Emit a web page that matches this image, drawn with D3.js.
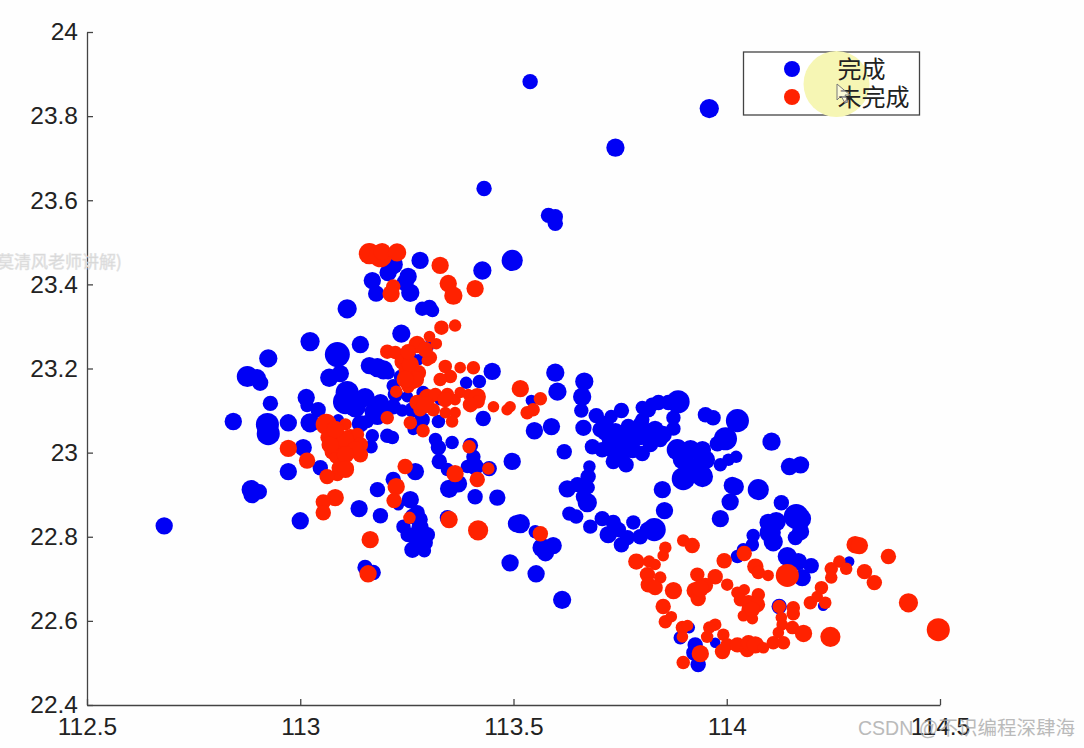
<!DOCTYPE html>
<html>
<head>
<meta charset="utf-8">
<script src="https://d3js.org/d3.v7.min.js"></script>
<style>
  html, body { margin: 0; padding: 0; background: #fefefe; }
  svg { display: block; }
  .tick text { font-family: "Liberation Sans", Arial, sans-serif; font-size: 24.5px; fill: #222; }
  .axis path, .axis line { stroke: #444; stroke-width: 1.3px; }
</style>
</head>
<body>
<div id="chart"></div>
<script>
// Scatter of stations: [lon, lat, marker area]
const legendLabels = ["完成", "未完成"];
const xTicks = [112.5, 113, 113.5, 114, 114.5];
const yTicks = [22.4, 22.6, 22.8, 23, 23.2, 23.4, 23.6, 23.8, 24];

const doneDots = [
  [113.539,23.882,49],[113.959,23.818,81],[113.739,23.725,72],[113.431,23.628,49],[113.582,23.564,49],[113.598,23.561,49],
  [113.598,23.545,49],[113.497,23.457,100],[113.427,23.433,72],[113.281,23.457,64],[113.218,23.447,81],[113.206,23.428,64],
  [113.169,23.409,64],[113.178,23.378,56],[113.253,23.419,64],[113.246,23.404,64],[113.258,23.380,72],[113.110,23.342,81],
  [113.286,23.342,42],[113.303,23.345,49],[113.310,23.338,36],[113.237,23.283,72],[113.023,23.264,81],[113.141,23.257,64],
  [113.087,23.233,144],[112.925,23.224,72],[113.094,23.188,64],[113.068,23.178,72],[112.876,23.181,100],[112.899,23.178,64],
  [112.906,23.166,56],[113.162,23.207,64],[113.181,23.202,81],[113.195,23.197,81],[113.206,23.190,36],[113.450,23.193,64],
  [113.389,23.166,30],[113.420,23.169,36],[113.300,23.252,25],[113.258,23.226,36],[113.277,23.221,25],[113.235,23.181,36],
  [113.218,23.159,36],[113.110,23.143,121],[113.106,23.121,144],[113.129,23.109,100],[113.152,23.131,81],[113.188,23.119,64],
  [113.171,23.097,64],[113.218,23.109,49],[113.239,23.100,30],[113.181,23.086,64],[112.930,23.117,49],[113.014,23.131,64],
  [113.016,23.112,36],[113.042,23.102,49],[113.023,23.071,81],[112.843,23.074,64],[112.923,23.067,121],[112.925,23.045,121],
  [112.972,23.071,64],[113.089,23.078,25],[113.141,23.069,64],[113.157,23.074,36],[113.429,23.081,49],[113.324,23.074,36],
  [113.286,23.078,49],[113.328,23.126,25],[113.288,23.143,36],[113.251,23.133,25],[113.270,23.097,25],[113.007,23.012,64],
  [113.169,23.040,36],[113.166,23.014,36],[113.204,23.040,42],[113.216,23.036,36],[113.265,23.055,25],[113.317,23.031,36],
  [113.324,23.012,49],[113.356,23.024,36],[113.399,23.017,49],[113.406,22.990,42],[113.326,22.979,49],[113.345,22.960,36],
  [113.392,22.967,36],[113.410,22.967,64],[113.443,22.962,49],[113.371,22.926,64],[113.349,22.914,72],[113.497,22.979,64],
  [113.410,22.895,49],[113.462,22.893,56],[113.270,22.955,64],[113.047,22.964,49],[112.972,22.955,64],[112.885,22.912,81],
  [112.887,22.900,64],[112.904,22.907,49],[113.000,22.838,64],[113.181,22.912,49],[113.138,22.867,64],[113.188,22.850,49],
  [113.218,22.936,49],[113.230,22.876,25],[113.258,22.888,64],[113.274,22.857,49],[113.281,22.841,49],[113.263,22.848,49],
  [113.242,22.824,42],[113.253,22.805,49],[113.281,22.822,64],[113.298,22.805,49],[113.293,22.786,49],[113.263,22.769,56],
  [113.291,22.767,36],[113.274,22.793,49],[113.345,22.845,49],[113.507,22.831,64],[113.492,22.738,64],[113.152,22.727,49],
  [113.171,22.715,49],[113.598,23.190,72],[113.603,23.145,72],[113.666,23.169,72],[113.661,23.133,72],[113.659,23.100,42],
  [113.664,23.059,56],[113.549,23.052,64],[113.589,23.062,64],[113.542,23.124,25],[113.619,23.002,49],[113.694,23.088,49],
  [113.753,23.100,49],[113.729,23.086,36],[113.715,23.067,64],[113.713,23.048,49],[113.739,23.050,64],[113.769,23.062,49],
  [113.802,23.107,36],[113.802,23.078,42],[113.825,23.114,42],[113.840,23.119,49],[113.863,23.119,49],[113.886,23.121,121],
  [113.875,23.083,42],[113.875,23.057,42],[113.851,23.043,64],[113.832,23.055,64],[113.814,23.050,64],[113.797,23.038,64],
  [113.779,23.038,49],[113.757,23.031,49],[113.844,23.031,49],[113.821,23.019,49],[113.802,22.998,49],[113.685,23.014,49],
  [113.708,23.007,49],[113.732,23.007,64],[113.755,23.012,49],[113.734,22.979,49],[113.764,22.971,49],[113.757,22.990,36],
  [113.743,22.995,49],[113.884,23.007,100],[113.896,22.983,81],[113.908,22.967,64],[113.943,23.007,64],[113.950,22.983,81],
  [113.931,22.967,64],[113.898,22.938,121],[113.943,22.943,100],[113.950,23.090,49],[113.968,23.083,49],[114.025,23.076,121],
  [113.997,23.033,121],[113.978,23.021,49],[114.105,23.026,72],[114.022,22.990,30],[114.004,22.983,30],[113.985,22.971,36],
  [114.147,22.967,64],[114.173,22.971,64],[114.020,22.919,64],[114.013,22.922,64],[114.074,22.912,100],[114.008,22.883,64],
  [113.985,22.843,64],[114.128,22.881,49],[113.849,22.912,64],[113.854,22.862,64],[113.626,22.914,64],[113.650,22.924,49],
  [113.675,22.943,49],[113.678,22.967,30],[113.675,22.917,36],[113.673,22.881,81],[113.664,22.895,49],[113.631,22.855,42],
  [113.647,22.848,42],[113.680,22.824,42],[113.708,22.843,49],[113.734,22.834,49],[113.722,22.805,64],[113.746,22.817,49],
  [113.753,22.781,49],[113.767,22.798,49],[113.781,22.834,42],[113.797,22.800,49],[113.814,22.817,49],[113.830,22.817,121],
  [113.516,22.831,81],[113.551,22.812,36],[113.567,22.774,81],[113.593,22.779,64],[113.575,22.762,64],[113.553,22.712,64],
  [113.614,22.650,72],[114.062,22.803,36],[114.060,22.781,36],[114.039,22.769,36],[114.025,22.753,36],[114.163,22.848,144],
  [114.173,22.843,100],[114.173,22.812,64],[114.161,22.798,49],[114.116,22.836,81],[114.097,22.834,64],[114.102,22.810,100],
  [114.109,22.788,81],[114.142,22.753,81],[114.168,22.741,64],[114.198,22.731,49],[114.177,22.703,64],[114.287,22.741,20],
  [114.226,22.636,20],[114.123,22.634,49],[113.912,22.584,25],[113.891,22.560,36],[113.926,22.543,49],[113.924,22.524,56],
  [113.933,22.496,49],[113.973,22.548,20],[112.681,22.826,64],
  // denser spots
  [113.762,23.043,64],[113.779,23.007,64],[113.797,23.067,49],[113.816,23.102,49],[113.727,23.031,64],[113.703,23.055,49],
  [113.915,22.960,100],[113.938,22.971,81],[113.915,23.007,81],[113.183,23.097,81],[113.223,23.138,49],[113.263,23.102,49]
];

const openDots = [
  [113.162,23.473,100],[113.188,23.468,121],[113.192,23.478,64],[113.227,23.476,72],[113.328,23.445,64],[113.347,23.402,64],
  [113.359,23.373,72],[113.410,23.390,64],[113.218,23.395,42],[113.213,23.378,64],[113.331,23.297,42],[113.363,23.302,30],
  [113.303,23.276,25],[113.319,23.259,25],[113.274,23.257,64],[113.204,23.240,42],[113.223,23.238,36],[113.305,23.226,36],
  [113.298,23.219,25],[113.239,23.216,49],[113.251,23.197,64],[113.277,23.190,49],[113.263,23.169,49],[113.253,23.157,36],
  [113.375,23.202,25],[113.406,23.202,36],[113.340,23.205,36],[113.352,23.181,36],[113.328,23.174,36],[113.225,23.145,30],
  [113.298,23.131,64],[113.274,23.119,49],[113.281,23.102,36],[113.312,23.102,36],[113.317,23.138,36],[113.345,23.138,36],
  [113.363,23.126,25],[113.375,23.143,25],[113.394,23.138,25],[113.415,23.133,64],[113.417,23.121,36],[113.453,23.109,25],
  [113.485,23.102,25],[113.492,23.109,25],[113.516,23.152,64],[113.204,23.083,36],[113.258,23.071,36],[113.340,23.095,25],
  [113.363,23.095,25],[113.356,23.074,30],[113.288,23.052,36],[113.563,23.128,36],[113.546,23.102,36],[113.532,23.095,36],
  [113.563,22.807,49],[112.972,23.010,64],[113.016,22.981,56],[113.061,23.067,100],[113.106,23.067,30],[113.063,23.036,36],
  [113.087,23.043,49],[113.117,23.038,49],[113.134,23.043,36],[113.141,23.019,49],[113.141,22.995,49],[113.117,23.012,49],
  [113.075,23.002,49],[113.087,23.007,36],[113.082,22.988,25],[113.098,22.971,49],[113.110,22.964,36],[113.087,22.948,36],
  [113.063,22.943,49],[113.089,22.964,36],[113.396,23.014,36],[113.363,22.950,64],[113.415,22.936,49],[113.441,22.962,30],
  [113.246,22.967,49],[113.225,22.919,64],[113.220,22.886,49],[113.256,22.845,30],[113.349,22.841,64],[113.417,22.815,90],
  [113.164,22.793,64],[113.159,22.712,64],[113.082,22.893,64],[113.054,22.883,49],[113.054,22.857,49],[113.898,22.791,30],
  [113.919,22.779,49],[113.856,22.774,30],[113.851,22.755,25],[113.788,22.741,56],[113.818,22.741,30],[113.832,22.734,25],
  [113.814,22.710,49],[113.844,22.703,30],[113.816,22.686,49],[113.832,22.679,49],[113.875,22.672,64],[113.851,22.634,49],
  [113.856,22.598,36],[113.870,22.610,25],[113.896,22.584,36],[113.908,22.589,25],[113.896,22.562,25],[113.931,22.710,42],
  [113.973,22.705,49],[113.994,22.743,49],[114.041,22.760,49],[114.067,22.729,56],[114.074,22.715,36],[114.097,22.708,25],
  [114.142,22.708,121],[114.001,22.686,30],[113.950,22.684,49],[113.926,22.672,64],[113.933,22.653,49],[114.025,22.667,30],
  [114.041,22.674,25],[114.074,22.662,36],[114.032,22.650,36],[114.051,22.643,49],[114.072,22.639,49],[114.048,22.627,25],
  [114.039,22.612,25],[114.060,22.605,25],[114.123,22.634,36],[114.156,22.631,36],[114.156,22.617,36],[114.128,22.608,25],
  [114.130,22.591,25],[114.154,22.584,36],[114.180,22.570,64],[114.243,22.562,90],[114.196,22.643,36],[114.222,22.679,36],
  [114.212,22.658,25],[114.231,22.643,30],[114.245,22.724,36],[114.245,22.703,30],[114.264,22.741,30],[114.280,22.724,30],
  [114.301,22.781,64],[114.311,22.779,64],[114.379,22.753,49],[114.323,22.717,49],[114.346,22.691,49],[114.426,22.643,81],
  [114.496,22.579,121],[113.938,22.522,64],[113.898,22.501,36],[113.973,22.591,30],[113.959,22.584,30],[113.954,22.562,30],
  [113.992,22.567,30],[113.990,22.527,49],[114.001,22.543,36],[114.025,22.543,49],[114.048,22.532,49],[114.051,22.548,49],
  [114.067,22.543,64],[114.086,22.536,25],[114.109,22.548,36],[114.133,22.548,36],[114.121,22.572,25],
  // denser spots
  [113.106,23.031,64],[113.129,23.007,64],[113.070,23.019,64],[113.106,22.995,64],[113.082,23.055,64],[113.106,22.960,64],
  [113.258,23.209,64],[113.270,23.174,64],[113.246,23.174,64],[113.293,23.245,49],[113.253,23.240,49],[113.293,23.114,64],
  [113.340,23.126,49],[113.399,23.114,49],[114.060,22.627,49],[113.938,22.677,64]
];

const BLUE = "#0000f5";
const RED = "#ff2200";

const W = 1084, H = 748;
const margin = { top: 32, right: 144, bottom: 43, left: 87 };

const x = d3.scaleLinear().domain([112.5, 114.5]).range([margin.left, W - margin.right]);
const y = d3.scaleLinear().domain([22.4, 24]).range([H - margin.bottom, margin.top]);
const r = d3.scaleSqrt().domain([0, 144]).range([1, 12.5]);

const svg = d3.select("#chart").append("svg").attr("width", W).attr("height", H);

// axes, ticks point inward like matlab
const xAxis = svg.append("g")
  .attr("class", "axis")
  .attr("transform", `translate(0,${H - margin.bottom})`)
  .call(d3.axisBottom(x).tickValues(xTicks).tickFormat(d3.format("")).tickSizeInner(-6).tickSizeOuter(0));
xAxis.selectAll("text").attr("y", 9).attr("dy", "0.85em");

const yAxis = svg.append("g")
  .attr("class", "axis")
  .attr("transform", `translate(${margin.left},0)`)
  .call(d3.axisLeft(y).tickValues(yTicks).tickFormat(d3.format("")).tickSizeInner(-6).tickSizeOuter(0));
yAxis.selectAll("text").attr("x", -9);

// blue first, red sits on top
[[doneDots, BLUE], [openDots, RED]].forEach(([dots, color]) => {
  svg.append("g").selectAll("circle")
    .data(dots)
    .join("circle")
    .attr("cx", (d) => x(d[0]))
    .attr("cy", (d) => y(d[1]))
    .attr("r", (d) => r(d[2]))
    .attr("fill", color);
});

// legend
const legend = svg.append("g").attr("transform", "translate(743.5,52)");
legend.append("rect")
  .attr("width", 176).attr("height", 63)
  .attr("fill", "#fff").attr("stroke", "#444").attr("stroke-width", 1.3);

// mouse highlight from the screen recording, under the legend text
legend.append("circle")
  .attr("cx", 93).attr("cy", 32).attr("r", 33)
  .attr("fill", "#f6f6b4");

legendLabels.forEach((label, i) => {
  const rowY = 17 + i * 28;
  legend.append("circle")
    .attr("cx", 48.5).attr("cy", rowY).attr("r", 8)
    .attr("fill", i === 0 ? BLUE : RED);
  legend.append("text")
    .attr("x", 94).attr("y", rowY + 9)
    .attr("font-family", '"Noto Sans CJK SC", sans-serif')
    .attr("font-size", 24)
    .attr("fill", "#222")
    .text(label);
});

svg.append("path")
  .attr("d", "M837,84 L837,100 L841,96 L845,103 L848,102 L845,95 L850,95 Z")
  .attr("fill", "#fff").attr("fill-opacity", 0.5).attr("stroke", "#777").attr("stroke-width", 1);

// video watermarks
svg.append("text")
  .attr("x", -3).attr("y", 268)
  .attr("font-family", '"Noto Sans CJK SC", sans-serif')
  .attr("font-size", 17)
  .attr("fill", "#d4d4d4").attr("stroke", "#e4e4e4").attr("stroke-width", 0.6)
  .text("莫清风老师讲解)");

svg.append("text")
  .attr("x", 858).attr("y", 735)
  .attr("font-family", '"Liberation Sans", "Noto Sans CJK SC", sans-serif')
  .attr("font-size", 19.5)
  .attr("fill", "#aaa").attr("opacity", 0.8)
  .text("CSDN @不识编程深肆海");
</script>
</body>
</html>
